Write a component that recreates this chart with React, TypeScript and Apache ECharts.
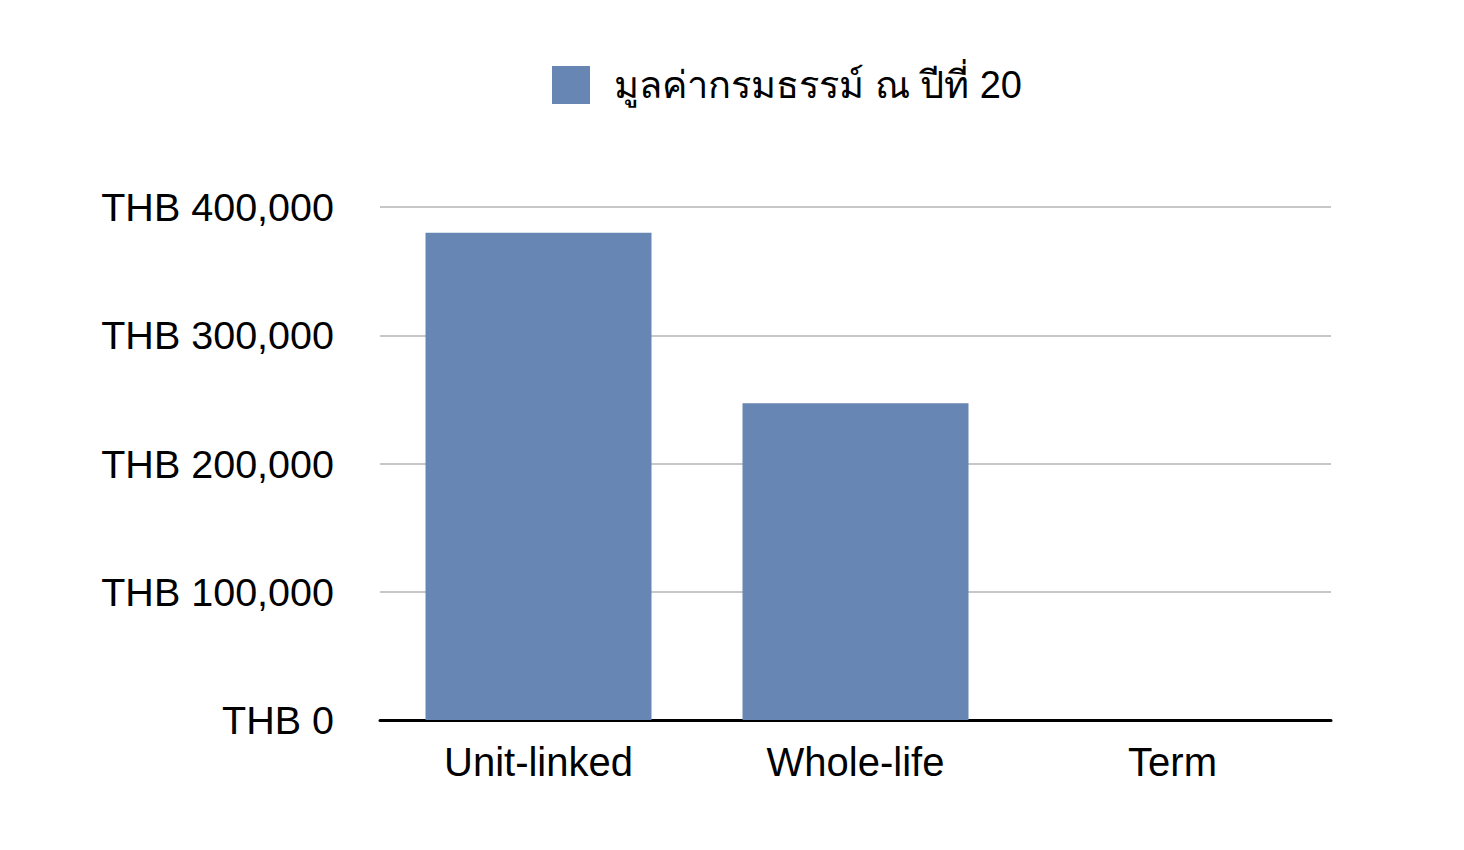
import { useEffect, useRef } from 'react';
import * as echarts from 'echarts';

// ข้อมูลกราฟ
const categories = ['Unit-linked', 'Whole-life', 'Term'];
const seriesName = 'มูลค่ากรมธรรม์ ณ ปีที่ 20';
const values = [380000, 247000, 0];
const yTicks = [0, 100000, 200000, 300000, 400000];

const FONT = '"Liberation Sans", Arial, Helvetica, sans-serif';

export default function App() {
  const chartRef = useRef<HTMLDivElement>(null);

  useEffect(() => {
    if (!chartRef.current) return;
    const chart = echarts.init(chartRef.current, null, { renderer: 'svg' });

    const option: echarts.EChartsOption = {
      animation: false,
      textStyle: { fontFamily: FONT },
      legend: {
        data: [seriesName],
        top: 61,
        left: 547,
        itemWidth: 38,
        itemHeight: 38,
        icon: 'rect',
        textStyle: {
          fontSize: 38,
          color: '#000',
          fontFamily: FONT,
          padding: [0, 0, 0, 19]
        }
      },
      grid: {
        left: 380,
        right: 133,
        top: 207,
        bottom: 130,
        containLabel: false
      },
      xAxis: {
        type: 'category',
        data: categories,
        axisLine: { lineStyle: { color: '#000', width: 3 } },
        axisTick: { show: false },
        axisLabel: {
          fontSize: 40,
          color: '#000',
          margin: 22,
          fontFamily: FONT
        }
      },
      yAxis: {
        type: 'value',
        min: yTicks[0],
        max: yTicks[yTicks.length - 1],
        interval: yTicks[1] - yTicks[0],
        axisLine: { show: false },
        axisTick: { show: false },
        splitLine: { lineStyle: { color: '#b4b4b4', width: 1.5 } },
        axisLabel: {
          fontSize: 39.5,
          color: '#000',
          margin: 46,
          fontFamily: FONT,
          formatter: (v: number) => 'THB ' + v.toLocaleString('en-US')
        }
      },
      series: [
        {
          name: seriesName,
          type: 'bar',
          data: values,
          barWidth: 226,
          itemStyle: { color: '#6786b4' }
        }
      ]
    };

    chart.setOption(option);

    return () => {
      chart.dispose();
    };
  }, []);

  return (
    <div
      ref={chartRef}
      style={{ position: 'absolute', left: 0, top: 0, width: 1464, height: 850 }}
    />
  );
}
